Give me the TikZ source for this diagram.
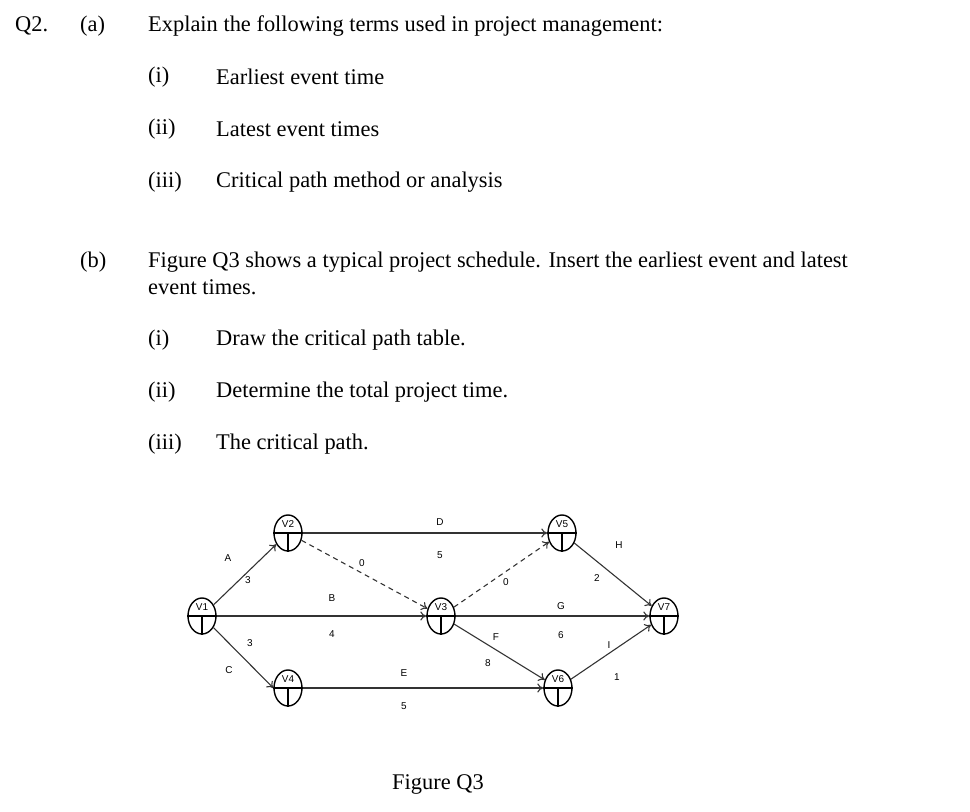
\documentclass[tikz,border=0pt]{standalone}
\usepackage{fontspec}
\usetikzlibrary{shapes.geometric,arrows.meta}
\setmainfont{Liberation Serif}
\newfontfamily\lsans{Liberation Sans}
\begin{document}
\begin{tikzpicture}[x=1bp,y=-1bp,
  txt/.style={anchor=west,inner sep=0pt,font=\fontsize{22.5}{25}\selectfont},
  ev/.style={draw,ellipse,minimum width=28bp,minimum height=36bp,inner sep=0pt,line width=1.4pt},
  lab/.style={font=\lsans\fontsize{10}{11}\selectfont,inner sep=0pt},
  act/.style={draw=black!80,line width=1.1pt,-{To[length=6bp,width=9bp]}},
  dum/.style={act,dash pattern=on 5bp off 4bp}]
\useasboundingbox (0,0) rectangle (970,812);
\node[txt] (q) at (15,26) {Q2.};
\node[txt] (a) at (80,26) {(a)};
\node[txt] (at) at (148,26) {Explain the following terms used in project management:};
\node[txt] (ai) at (148,77) {(i)};
\node[txt] (ait) at (216,77) {Earliest event time};
\node[txt] (aii) at (148,129) {(ii)};
\node[txt] (aiit) at (216,129) {Latest event times};
\node[txt] (aiii) at (148,182) {(iii)};
\node[txt] (aiiit) at (216,182) {Critical path method or analysis};
\node[txt] (b) at (80,262) {(b)};
\node[txt] (bt) at (148,262) {Figure Q3 shows a typical project schedule. Insert the earliest event and latest};
\node[txt] (bt2) at (148,287) {event times.};
\node[txt] (bi) at (148,340) {(i)};
\node[txt] (bit) at (216,340) {Draw the critical path table.};
\node[txt] (bii) at (148,392) {(ii)};
\node[txt] (biit) at (216,392) {Determine the total project time.};
\node[txt] (biii) at (148,444) {(iii)};
\node[txt] (biiit) at (216,444) {The critical path.};
\node[txt] (fig) at (392,784) {Figure Q3};
% events
\foreach \n/\x/\y in {V1/202/616,V2/288/533,V3/441/616,V4/288/688,V5/562/533,V6/558/688,V7/664/616}{
  \node[ev] (\n) at (\x,\y) {};
  \draw[line width=1.1pt] (\n.west) -- (\n.east) (\n.center) -- (\n.south);
  \node[lab] at (\x,\y-9) {\n};
}
\draw[act] (V1) -- (V2);
\draw[act] (V1.east) -- (V3.west);
\draw[act] (V1) -- (V4.west);
\draw[act] (V2.east) -- (V5.west);
\draw[dum] (V2) -- (V3);
\draw[dum] (V3) -- (V5);
\draw[act] (V3.east) -- (V7.west);
\draw[act] (V3) -- (V6);
\draw[act] (V4.east) -- (V6.west);
\draw[act] (V5) -- (V7);
\draw[act] (V6) -- (V7);
\foreach \t/\x/\y in {A/228/558,3/248/580,B/332/598,4/332/634,3/250/643,C/229/670,D/440/522,5/440/555,0/362/563,0/506/582,H/619/545,2/597/578,G/561/606,6/561/635,F/496/637,8/488/663,I/609/645,1/617/677,E/404/673,5/404/706}{
  \node[lab] at (\x,\y) {\t};
}
\end{tikzpicture}
\end{document}
